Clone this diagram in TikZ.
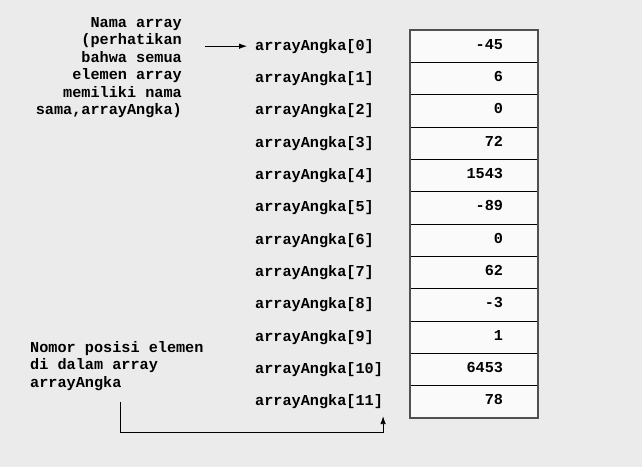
\documentclass[tikz,border=0pt]{standalone}
\usepackage{fontspec}
\setmonofont{Liberation Mono}
\usetikzlibrary{arrows.meta,positioning}
\tikzset{every picture/.style={/utils/exec={\ttfamily\bfseries\fontsize{15.2}{17.5}\selectfont}}}
\definecolor{bgcolor}{HTML}{EBEBEB}
\definecolor{cellfill}{HTML}{FAFAFA}
\definecolor{framecolor}{HTML}{505050}

\begin{document}
\begin{tikzpicture}[x=1pt, y=-1pt]
  \tikzstyle{cell} = [rectangle, draw=black, line width=0.8pt, fill=cellfill, outer sep=0pt, minimum height=32.33pt, text width=58pt, text depth=4pt, inner xsep=35pt, inner ysep=0pt, align=right]
  \tikzstyle{elemlabel} = [anchor=west, inner sep=0pt]
  \tikzstyle{notetext} = [inner sep=0pt]
  \tikzstyle{arrow} = [-{Latex[length=8pt,width=5.5pt]}, line width=0.8pt]

  \fill [bgcolor] (0,0) rectangle (642,467);

  % the array cells, top to bottom
  \node (cell0) [cell] at (474,46.17) {-45};
  \node (cell1) [cell, below=0pt of cell0] {6};
  \node (cell2) [cell, below=0pt of cell1] {0};
  \node (cell3) [cell, below=0pt of cell2] {72};
  \node (cell4) [cell, below=0pt of cell3] {1543};
  \node (cell5) [cell, below=0pt of cell4] {-89};
  \node (cell6) [cell, below=0pt of cell5] {0};
  \node (cell7) [cell, below=0pt of cell6] {62};
  \node (cell8) [cell, below=0pt of cell7] {-3};
  \node (cell9) [cell, below=0pt of cell8] {1};
  \node (cell10) [cell, below=0pt of cell9] {6453};
  \node (cell11) [cell, below=0pt of cell10] {78};
  \draw [framecolor, line width=2pt] (cell0.north west) rectangle (cell11.south east);

  % element names
  \coordinate (namecol) at (255,0);
  \node (elem0) [elemlabel] at (namecol |- cell0) {arrayAngka[0]};
  \node (elem1) [elemlabel] at (namecol |- cell1) {arrayAngka[1]};
  \node (elem2) [elemlabel] at (namecol |- cell2) {arrayAngka[2]};
  \node (elem3) [elemlabel] at (namecol |- cell3) {arrayAngka[3]};
  \node (elem4) [elemlabel] at (namecol |- cell4) {arrayAngka[4]};
  \node (elem5) [elemlabel] at (namecol |- cell5) {arrayAngka[5]};
  \node (elem6) [elemlabel] at (namecol |- cell6) {arrayAngka[6]};
  \node (elem7) [elemlabel] at (namecol |- cell7) {arrayAngka[7]};
  \node (elem8) [elemlabel] at (namecol |- cell8) {arrayAngka[8]};
  \node (elem9) [elemlabel] at (namecol |- cell9) {arrayAngka[9]};
  \node (elem10) [elemlabel] at (namecol |- cell10) {arrayAngka[10]};
  \node (elem11) [elemlabel] at (namecol |- cell11) {arrayAngka[11]};

  \node (nama) [notetext, anchor=east, align=right] at (182,67.5) {Nama array\\(perhatikan\\bahwa semua\\elemen array\\memiliki nama\\sama,arrayAngka)};
  \node (nomor) [notetext, anchor=west, align=left] at (30,366) {Nomor posisi elemen\\di dalam array\\arrayAngka};

  \draw [arrow] (nama.east |- elem0) ++(23,0) -- ([xshift=-8pt]elem0.west);
  % down, across, then up to the last index
  \coordinate (nomorfoot) at (120,402);
  \draw [arrow] (nomorfoot) -- ++(0,30) -| ([yshift=-7pt]elem11.south east);
\end{tikzpicture}
\end{document}
